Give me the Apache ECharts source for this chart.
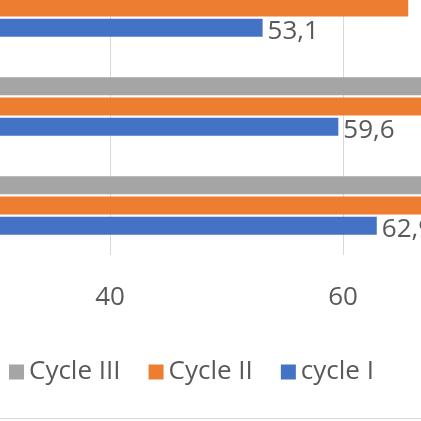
<!DOCTYPE html>
<html><head><meta charset="utf-8">
<script src="https://cdn.jsdelivr.net/npm/echarts@6/dist/echarts.min.js"></script>
<style>html,body{margin:0;padding:0;overflow:hidden;width:421px;height:421px;background:#fff}
#c{position:absolute;left:-400px;top:-100px;width:1100px;height:600px}
#b{position:absolute;left:0;top:418px;width:421px;height:1px;background:#d9d9d9}</style>
</head><body><div id="c"></div><div id="b"></div>
<script>
const categories = ['A','B','C'];
const cycleI = [62.9, 59.6, 53.1];
const cycleII = [70.5, 69.0, 65.6];
const cycleIII = [73.0, 71.5, 70.0];
const chart = echarts.init(document.getElementById('c'));
const fmt = p => String(p.value).replace('.', ',');
chart.setOption({
  animation:false,
  grid:{left:44, top:58, width:932, height:297},
  xAxis:{type:'value', min:0, max:80, interval:20,
    axisLabel:{color:'#595959', fontSize:26, fontFamily:'Open Sans', margin:30},
    splitLine:{lineStyle:{color:'#d9d9d9'}}, axisLine:{show:false}, axisTick:{show:false}},
  yAxis:{type:'category', data:categories, axisLabel:{show:false}, axisTick:{show:false}, axisLine:{show:false}},
  legend:{left:404, top:454, itemWidth:15, itemHeight:15, itemGap:28, icon:'rect',
    data:['Cycle III','Cycle II','cycle I'],
    textStyle:{color:'#595959', fontSize:26, fontFamily:'Open Sans'}},
  series:[
    {name:'Cycle III', type:'bar', data:cycleIII, barWidth:18, barGap:'12%', itemStyle:{color:'#A5A5A5'}},
    {name:'Cycle II', type:'bar', data:cycleII, barWidth:18, barGap:'12%', itemStyle:{color:'#ED7D31'}},
    {name:'cycle I', type:'bar', data:cycleI, barWidth:18, barGap:'12%', itemStyle:{color:'#4472C4'},
      label:{show:true, position:'right', formatter:fmt, color:'#595959', fontSize:26, fontFamily:'Open Sans', offset:[0,4]}}
  ]
});
</script></body></html>
